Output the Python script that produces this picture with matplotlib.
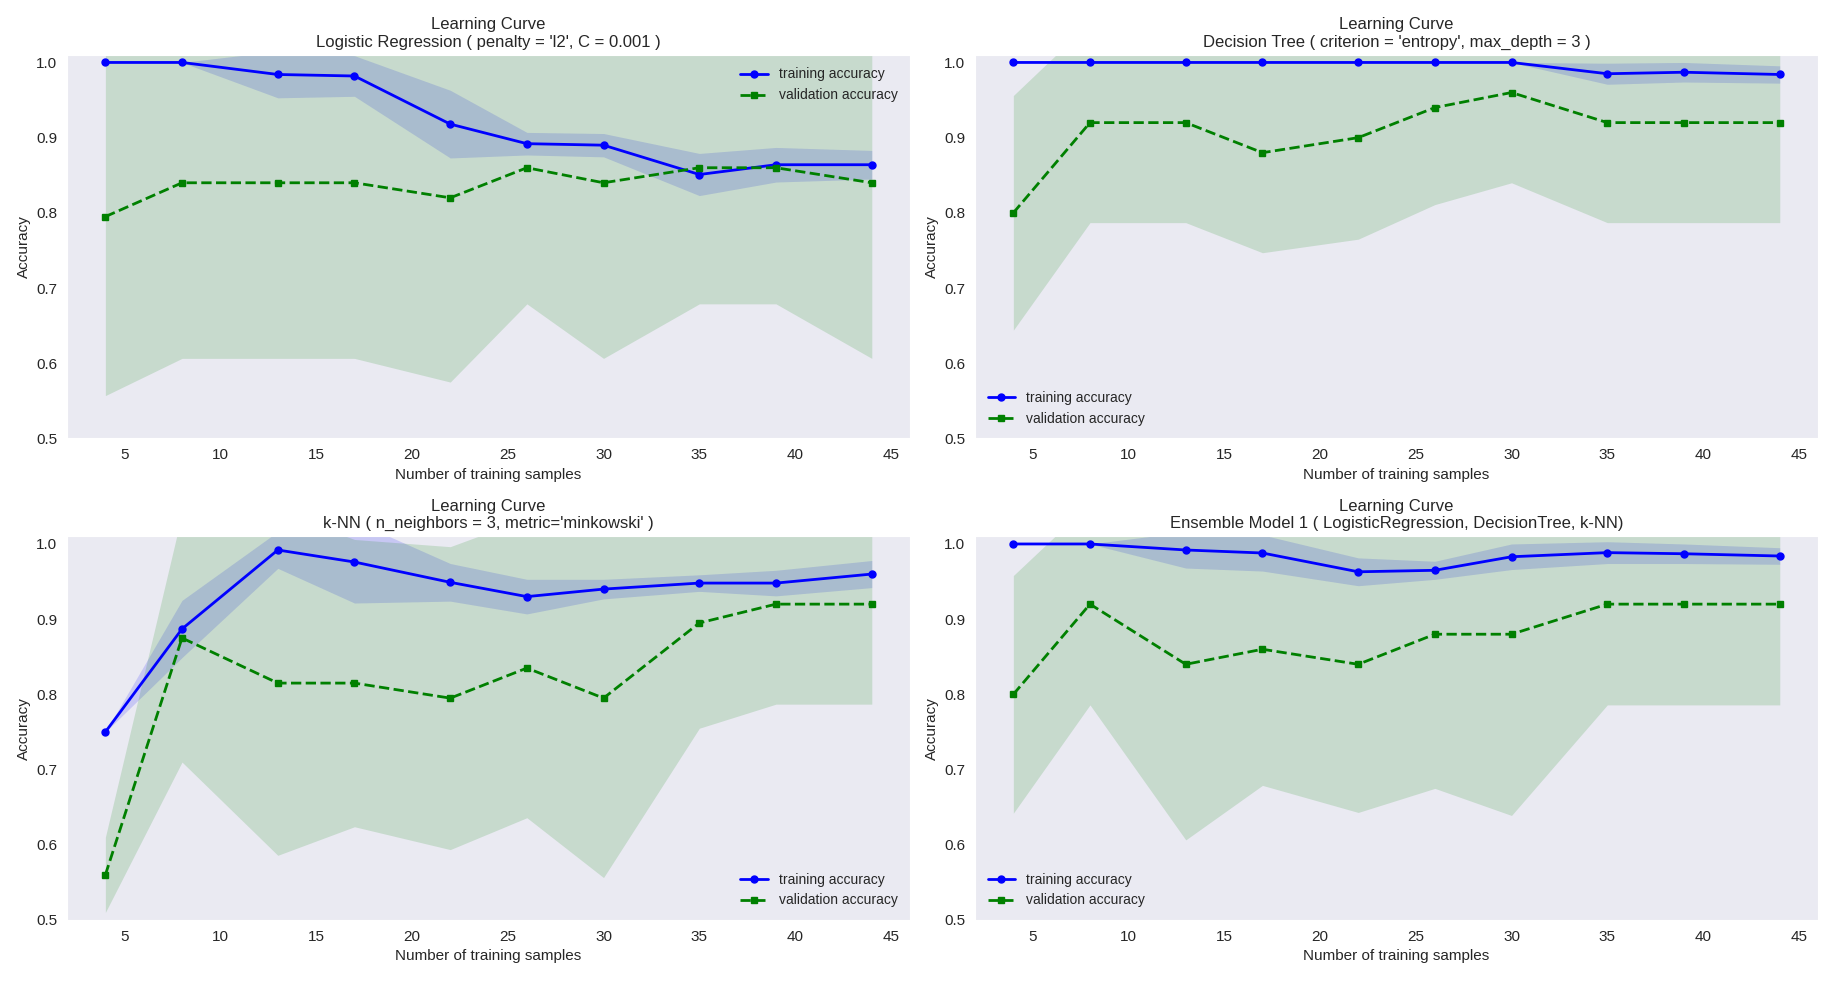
import matplotlib
matplotlib.use('Agg')
import matplotlib.pyplot as plt
import numpy as np
import seaborn as sns

sns.set_style('dark')
plt.rcParams['font.family'] = ['Liberation Sans', 'DejaVu Sans']
plt.rcParams['font.size'] = 11

train_sizes = [4, 8, 13, 17, 22, 26, 30, 35, 39, 44]

titles = [
    "Learning Curve\nLogistic Regression ( penalty = 'l2', C = 0.001 )",
    "Learning Curve\nDecision Tree ( criterion = 'entropy', max_depth = 3 )",
    "Learning Curve\nk-NN ( n_neighbors = 3, metric='minkowski' )",
    "Learning Curve\nEnsemble Model 1 ( LogisticRegression, DecisionTree, k-NN)",
]
legend_locs = ['upper right', 'lower left', 'lower right', 'lower left']

# logistic regression
lr_train_mean = [1.0, 1.0, 0.984, 0.982, 0.918, 0.892, 0.890, 0.851, 0.864, 0.864]
lr_train_std = [0.0, 0.0, 0.031, 0.027, 0.045, 0.015, 0.0155, 0.028, 0.023, 0.019]
lr_test_mean = [0.795, 0.84, 0.84, 0.84, 0.82, 0.86, 0.84, 0.86, 0.86, 0.84]
lr_test_std = [0.238, 0.2335, 0.2335, 0.2335, 0.245, 0.181, 0.2335, 0.181, 0.181, 0.2335]

# decision tree
dt_train_mean = [1.0, 1.0, 1.0, 1.0, 1.0, 1.0, 1.0, 0.985, 0.987, 0.984]
dt_train_std = [0.0, 0.0, 0.0, 0.0, 0.0, 0.0, 0.0, 0.014, 0.013, 0.0115]
dt_test_mean = [0.80, 0.92, 0.92, 0.88, 0.90, 0.94, 0.96, 0.92, 0.92, 0.92]
dt_test_std = [0.156, 0.133, 0.133, 0.133, 0.135, 0.129, 0.12, 0.133, 0.133, 0.133]

# k-NN
knn_train_mean = [0.75, 0.887, 0.992, 0.976, 0.949, 0.930, 0.940, 0.948, 0.948, 0.960]
knn_train_std = [0.0, 0.038, 0.0244, 0.0545, 0.025, 0.023, 0.013, 0.011, 0.017, 0.018]
knn_test_mean = [0.56, 0.875, 0.815, 0.815, 0.795, 0.835, 0.795, 0.895, 0.92, 0.92]
knn_test_std = [0.05, 0.165, 0.229, 0.191, 0.2014, 0.199, 0.2386, 0.14, 0.133, 0.133]

# ensemble
ens_train_mean = [1.0, 1.0, 0.992, 0.988, 0.963, 0.965, 0.983, 0.9885, 0.987, 0.984]
ens_train_std = [0.0, 0.0, 0.024, 0.024, 0.0185, 0.012, 0.017, 0.0145, 0.013, 0.011]
ens_test_mean = [0.80, 0.92, 0.84, 0.86, 0.84, 0.88, 0.88, 0.92, 0.92, 0.92]
ens_test_std = [0.158, 0.134, 0.2335, 0.181, 0.197, 0.205, 0.241, 0.134, 0.134, 0.134]

curves = [
    (lr_train_mean, lr_train_std, lr_test_mean, lr_test_std),
    (dt_train_mean, dt_train_std, dt_test_mean, dt_test_std),
    (knn_train_mean, knn_train_std, knn_test_mean, knn_test_std),
    (ens_train_mean, ens_train_std, ens_test_mean, ens_test_std),
]

fig, axes = plt.subplots(2, 2, figsize=(18.32, 9.81), dpi=100)
plt.subplots_adjust(left=0.0366, right=0.9924, top=0.944, bottom=0.0622,
                    wspace=0.077, hspace=0.2555)

for ax, title, loc, (tr_m, tr_s, te_m, te_s) in zip(axes.flat, titles, legend_locs, curves):
    tr_m = np.array(tr_m)
    tr_s = np.array(tr_s)
    te_m = np.array(te_m)
    te_s = np.array(te_s)

    ax.plot(train_sizes, tr_m, color='blue', marker='o', markersize=5,
            linewidth=2, label='training accuracy')
    ax.fill_between(train_sizes, tr_m + tr_s, tr_m - tr_s, alpha=0.15,
                    color='blue', linewidth=0)
    ax.plot(train_sizes, te_m, color='green', linestyle='--', marker='s', markersize=5,
            linewidth=2, label='validation accuracy')
    ax.fill_between(train_sizes, te_m + te_s, te_m - te_s, alpha=0.15,
                    color='green', linewidth=0)

    ax.set_title(title, fontsize=12)
    ax.set_xlabel('Number of training samples')
    ax.set_ylabel('Accuracy')
    ax.set_ylim([0.5, 1.01])
    ax.legend(loc=loc, frameon=False, fontsize=10, labelspacing=0.5)

plt.savefig('out.png', dpi=100)
